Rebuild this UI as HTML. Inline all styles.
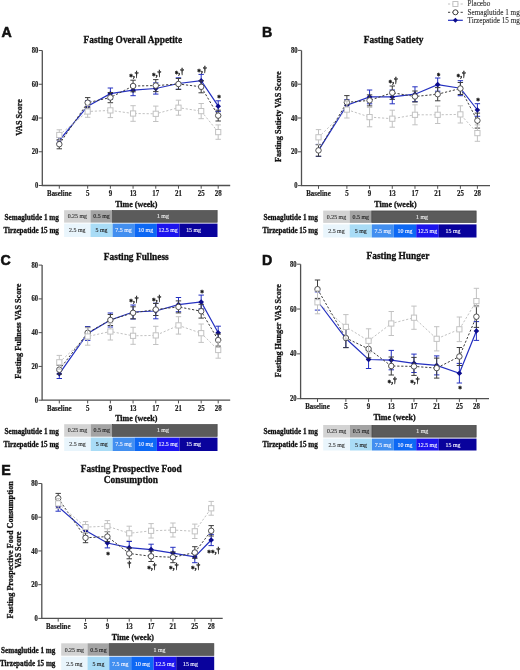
<!DOCTYPE html>
<html><head><meta charset="utf-8"><style>
html,body{margin:0;padding:0;background:#fff;width:520px;height:670px;overflow:hidden}
svg{display:block;will-change:transform;filter:blur(0.25px)}
</style></head><body>
<svg width="520" height="670" viewBox="0 0 520 670">
<rect width="520" height="670" fill="#fff"/>
<path d="M42.30 50.50V185.50H230.20" fill="none" stroke="#505050" stroke-width="1.3"/>
<path d="M38.80 185.50H42.30" stroke="#505050" stroke-width="1"/>
<text transform="translate(38.30 188.10) scale(1 1.1)" font-family='"Liberation Serif", serif' font-size="6.6" font-weight="bold" text-anchor="end" fill="#222" stroke="#222" stroke-width="0.18">0</text>
<path d="M38.80 151.75H42.30" stroke="#505050" stroke-width="1"/>
<text transform="translate(38.30 154.35) scale(1 1.1)" font-family='"Liberation Serif", serif' font-size="6.6" font-weight="bold" text-anchor="end" fill="#222" stroke="#222" stroke-width="0.18">20</text>
<path d="M38.80 118.00H42.30" stroke="#505050" stroke-width="1"/>
<text transform="translate(38.30 120.60) scale(1 1.1)" font-family='"Liberation Serif", serif' font-size="6.6" font-weight="bold" text-anchor="end" fill="#222" stroke="#222" stroke-width="0.18">40</text>
<path d="M38.80 84.25H42.30" stroke="#505050" stroke-width="1"/>
<text transform="translate(38.30 86.85) scale(1 1.1)" font-family='"Liberation Serif", serif' font-size="6.6" font-weight="bold" text-anchor="end" fill="#222" stroke="#222" stroke-width="0.18">60</text>
<path d="M38.80 50.50H42.30" stroke="#505050" stroke-width="1"/>
<text transform="translate(38.30 53.10) scale(1 1.1)" font-family='"Liberation Serif", serif' font-size="6.6" font-weight="bold" text-anchor="end" fill="#222" stroke="#222" stroke-width="0.18">80</text>
<path d="M59.30 185.50V188.70" stroke="#505050" stroke-width="1"/>
<text transform="translate(59.30 195.80) scale(1 1.05)" font-family='"Liberation Serif", serif' font-size="6.9" font-weight="bold" text-anchor="middle" fill="#222" stroke="#222" stroke-width="0.18">Baseline</text>
<path d="M87.67 185.50V188.70" stroke="#505050" stroke-width="1"/>
<text transform="translate(87.67 195.80) scale(1 1.05)" font-family='"Liberation Serif", serif' font-size="6.9" font-weight="bold" text-anchor="middle" fill="#222" stroke="#222" stroke-width="0.18">5</text>
<path d="M110.38 185.50V188.70" stroke="#505050" stroke-width="1"/>
<text transform="translate(110.38 195.80) scale(1 1.05)" font-family='"Liberation Serif", serif' font-size="6.9" font-weight="bold" text-anchor="middle" fill="#222" stroke="#222" stroke-width="0.18">9</text>
<path d="M133.07 185.50V188.70" stroke="#505050" stroke-width="1"/>
<text transform="translate(133.07 195.80) scale(1 1.05)" font-family='"Liberation Serif", serif' font-size="6.9" font-weight="bold" text-anchor="middle" fill="#222" stroke="#222" stroke-width="0.18">13</text>
<path d="M155.77 185.50V188.70" stroke="#505050" stroke-width="1"/>
<text transform="translate(155.77 195.80) scale(1 1.05)" font-family='"Liberation Serif", serif' font-size="6.9" font-weight="bold" text-anchor="middle" fill="#222" stroke="#222" stroke-width="0.18">17</text>
<path d="M178.47 185.50V188.70" stroke="#505050" stroke-width="1"/>
<text transform="translate(178.47 195.80) scale(1 1.05)" font-family='"Liberation Serif", serif' font-size="6.9" font-weight="bold" text-anchor="middle" fill="#222" stroke="#222" stroke-width="0.18">21</text>
<path d="M201.18 185.50V188.70" stroke="#505050" stroke-width="1"/>
<text transform="translate(201.18 195.80) scale(1 1.05)" font-family='"Liberation Serif", serif' font-size="6.9" font-weight="bold" text-anchor="middle" fill="#222" stroke="#222" stroke-width="0.18">25</text>
<path d="M218.20 185.50V188.70" stroke="#505050" stroke-width="1"/>
<text transform="translate(218.20 195.80) scale(1 1.05)" font-family='"Liberation Serif", serif' font-size="6.9" font-weight="bold" text-anchor="middle" fill="#222" stroke="#222" stroke-width="0.18">28</text>
<text transform="translate(132.80 42.70) scale(1 1.12)" font-family='"Liberation Serif", serif' font-size="9.4" font-weight="bold" text-anchor="middle" fill="#111" stroke="#111" stroke-width="0.28">Fasting Overall Appetite</text>
<text x="1.60" y="37.20" font-family='"Liberation Sans", sans-serif' font-size="14.2" font-weight="bold" fill="#111" stroke="#111" stroke-width="0.55">A</text>
<text transform="translate(21.60 117.50) rotate(-90) scale(1 1.12)" font-family='"Liberation Serif", serif' font-size="8.2" font-weight="bold" text-anchor="middle" fill="#111" stroke="#111" stroke-width="0.28">VAS Score</text>
<text transform="translate(136.25 206.90) scale(1 1.12)" font-family='"Liberation Serif", serif' font-size="8" font-weight="bold" text-anchor="middle" fill="#111" stroke="#111" stroke-width="0.28">Time (week)</text>
<path d="M59.30 140.50 L87.67 106.20 L110.38 93.70 L133.07 90.20 L155.77 88.50 L178.47 83.50 L201.18 80.70 L218.20 106.20" fill="none" stroke="#2430c0" stroke-width="1.2"/>
<path d="M59.30 137.50V143.50M56.60 137.50H62.00M56.60 143.50H62.00" stroke="#2430c0" stroke-width="1" fill="none"/>
<path d="M87.67 100.70V111.70M84.97 100.70H90.38M84.97 111.70H90.38" stroke="#2430c0" stroke-width="1" fill="none"/>
<path d="M110.38 88.00V99.40M107.67 88.00H113.08M107.67 99.40H113.08" stroke="#2430c0" stroke-width="1" fill="none"/>
<path d="M133.07 84.70V95.70M130.38 84.70H135.77M130.38 95.70H135.77" stroke="#2430c0" stroke-width="1" fill="none"/>
<path d="M155.77 82.90V94.10M153.07 82.90H158.47M153.07 94.10H158.47" stroke="#2430c0" stroke-width="1" fill="none"/>
<path d="M178.47 77.80V89.20M175.78 77.80H181.17M175.78 89.20H181.17" stroke="#2430c0" stroke-width="1" fill="none"/>
<path d="M201.18 74.40V87.00M198.48 74.40H203.88M198.48 87.00H203.88" stroke="#2430c0" stroke-width="1" fill="none"/>
<path d="M218.20 100.80V111.60M215.50 100.80H220.90M215.50 111.60H220.90" stroke="#2430c0" stroke-width="1" fill="none"/>
<path d="M59.30 137.70L62.10 140.50L59.30 143.30L56.50 140.50Z" fill="#0c0c8c"/>
<path d="M87.67 103.40L90.47 106.20L87.67 109.00L84.88 106.20Z" fill="#0c0c8c"/>
<path d="M110.38 90.90L113.17 93.70L110.38 96.50L107.58 93.70Z" fill="#0c0c8c"/>
<path d="M133.07 87.40L135.88 90.20L133.07 93.00L130.27 90.20Z" fill="#0c0c8c"/>
<path d="M155.77 85.70L158.57 88.50L155.77 91.30L152.97 88.50Z" fill="#0c0c8c"/>
<path d="M178.47 80.70L181.28 83.50L178.47 86.30L175.67 83.50Z" fill="#0c0c8c"/>
<path d="M201.18 77.90L203.98 80.70L201.18 83.50L198.38 80.70Z" fill="#0c0c8c"/>
<path d="M218.20 103.40L221.00 106.20L218.20 109.00L215.40 106.20Z" fill="#0c0c8c"/>
<path d="M59.30 144.20 L87.67 102.70 L110.38 97.50 L133.07 86.00 L155.77 85.60 L178.47 84.00 L201.18 86.80 L218.20 115.60" fill="none" stroke="#3c3c3c" stroke-width="1" stroke-dasharray="2.2 1.8"/>
<path d="M59.30 139.60V148.80M56.60 139.60H62.00M56.60 148.80H62.00" stroke="#3c3c3c" stroke-width="1" fill="none"/>
<path d="M87.67 97.60V107.80M84.97 97.60H90.38M84.97 107.80H90.38" stroke="#3c3c3c" stroke-width="1" fill="none"/>
<path d="M110.38 92.50V102.50M107.67 92.50H113.08M107.67 102.50H113.08" stroke="#3c3c3c" stroke-width="1" fill="none"/>
<path d="M133.07 80.20V91.80M130.38 80.20H135.77M130.38 91.80H135.77" stroke="#3c3c3c" stroke-width="1" fill="none"/>
<path d="M155.77 79.60V91.60M153.07 79.60H158.47M153.07 91.60H158.47" stroke="#3c3c3c" stroke-width="1" fill="none"/>
<path d="M178.47 78.50V89.50M175.78 78.50H181.17M175.78 89.50H181.17" stroke="#3c3c3c" stroke-width="1" fill="none"/>
<path d="M201.18 80.80V92.80M198.48 80.80H203.88M198.48 92.80H203.88" stroke="#3c3c3c" stroke-width="1" fill="none"/>
<path d="M218.20 110.20V121.00M215.50 110.20H220.90M215.50 121.00H220.90" stroke="#3c3c3c" stroke-width="1" fill="none"/>
<circle cx="59.30" cy="144.20" r="2.75" fill="#fff" stroke="#4a4a4a" stroke-width="0.95"/>
<circle cx="87.67" cy="102.70" r="2.75" fill="#fff" stroke="#4a4a4a" stroke-width="0.95"/>
<circle cx="110.38" cy="97.50" r="2.75" fill="#fff" stroke="#4a4a4a" stroke-width="0.95"/>
<circle cx="133.07" cy="86.00" r="2.75" fill="#fff" stroke="#4a4a4a" stroke-width="0.95"/>
<circle cx="155.77" cy="85.60" r="2.75" fill="#fff" stroke="#4a4a4a" stroke-width="0.95"/>
<circle cx="178.47" cy="84.00" r="2.75" fill="#fff" stroke="#4a4a4a" stroke-width="0.95"/>
<circle cx="201.18" cy="86.80" r="2.75" fill="#fff" stroke="#4a4a4a" stroke-width="0.95"/>
<circle cx="218.20" cy="115.60" r="2.75" fill="#fff" stroke="#4a4a4a" stroke-width="0.95"/>
<path d="M59.30 135.00 L87.67 111.50 L110.38 110.40 L133.07 113.50 L155.77 113.80 L178.47 107.70 L201.18 111.10 L218.20 132.10" fill="none" stroke="#c2c2c2" stroke-width="1" stroke-dasharray="2.2 1.8"/>
<path d="M59.30 129.80V140.20M56.60 129.80H62.00M56.60 140.20H62.00" stroke="#c2c2c2" stroke-width="1" fill="none"/>
<path d="M87.67 105.70V117.30M84.97 105.70H90.38M84.97 117.30H90.38" stroke="#c2c2c2" stroke-width="1" fill="none"/>
<path d="M110.38 103.20V117.60M107.67 103.20H113.08M107.67 117.60H113.08" stroke="#c2c2c2" stroke-width="1" fill="none"/>
<path d="M133.07 105.70V121.30M130.38 105.70H135.77M130.38 121.30H135.77" stroke="#c2c2c2" stroke-width="1" fill="none"/>
<path d="M155.77 106.10V121.50M153.07 106.10H158.47M153.07 121.50H158.47" stroke="#c2c2c2" stroke-width="1" fill="none"/>
<path d="M178.47 100.20V115.20M175.78 100.20H181.17M175.78 115.20H181.17" stroke="#c2c2c2" stroke-width="1" fill="none"/>
<path d="M201.18 103.50V118.70M198.48 103.50H203.88M198.48 118.70H203.88" stroke="#c2c2c2" stroke-width="1" fill="none"/>
<path d="M218.20 124.90V139.30M215.50 124.90H220.90M215.50 139.30H220.90" stroke="#c2c2c2" stroke-width="1" fill="none"/>
<rect x="56.70" y="132.40" width="5.2" height="5.2" fill="#fff" stroke="#c2c2c2" stroke-width="1"/>
<rect x="85.08" y="108.90" width="5.2" height="5.2" fill="#fff" stroke="#c2c2c2" stroke-width="1"/>
<rect x="107.78" y="107.80" width="5.2" height="5.2" fill="#fff" stroke="#c2c2c2" stroke-width="1"/>
<rect x="130.47" y="110.90" width="5.2" height="5.2" fill="#fff" stroke="#c2c2c2" stroke-width="1"/>
<rect x="153.17" y="111.20" width="5.2" height="5.2" fill="#fff" stroke="#c2c2c2" stroke-width="1"/>
<rect x="175.88" y="105.10" width="5.2" height="5.2" fill="#fff" stroke="#c2c2c2" stroke-width="1"/>
<rect x="198.58" y="108.50" width="5.2" height="5.2" fill="#fff" stroke="#c2c2c2" stroke-width="1"/>
<rect x="215.60" y="129.50" width="5.2" height="5.2" fill="#fff" stroke="#c2c2c2" stroke-width="1"/>
<text transform="translate(133.88 77.40) scale(1 1.12)" font-family='"Liberation Serif", serif' font-size="7.4" font-weight="bold" text-anchor="middle" fill="#111" stroke="#111" stroke-width="0.28"><tspan dy="2.6">*</tspan><tspan dy="-2.6">,†</tspan></text>
<text transform="translate(156.57 76.30) scale(1 1.12)" font-family='"Liberation Serif", serif' font-size="7.4" font-weight="bold" text-anchor="middle" fill="#111" stroke="#111" stroke-width="0.28"><tspan dy="2.6">*</tspan><tspan dy="-2.6">,†</tspan></text>
<text transform="translate(179.28 74.00) scale(1 1.12)" font-family='"Liberation Serif", serif' font-size="7.4" font-weight="bold" text-anchor="middle" fill="#111" stroke="#111" stroke-width="0.28"><tspan dy="2.6">*</tspan><tspan dy="-2.6">,†</tspan></text>
<text transform="translate(201.98 71.70) scale(1 1.12)" font-family='"Liberation Serif", serif' font-size="7.4" font-weight="bold" text-anchor="middle" fill="#111" stroke="#111" stroke-width="0.28"><tspan dy="2.6">*</tspan><tspan dy="-2.6">,†</tspan></text>
<text transform="translate(219.00 98.50) scale(1 1.12)" font-family='"Liberation Serif", serif' font-size="7.4" font-weight="bold" text-anchor="middle" fill="#111" stroke="#111" stroke-width="0.28"><tspan dy="2.6">*</tspan></text>
<rect x="64.10" y="210.20" width="26.40" height="12.40" fill="#d3d3d3"/>
<text transform="translate(77.30 218.40) scale(1 1.12)" font-family='"Liberation Serif", serif' font-size="5.9" font-weight="normal" text-anchor="middle" fill="#333" stroke="#333" stroke-width="0.12">0.25 mg</text>
<rect x="90.50" y="210.20" width="22.10" height="12.40" fill="#a3a3a3"/>
<text transform="translate(101.55 218.40) scale(1 1.12)" font-family='"Liberation Serif", serif' font-size="5.9" font-weight="normal" text-anchor="middle" fill="#222" stroke="#222" stroke-width="0.12">0.5 mg</text>
<rect x="112.60" y="210.55" width="104.55" height="11.70" fill="#5b5b5b" stroke="#454545" stroke-width="0.7"/>
<text transform="translate(162.90 218.40) scale(1 1.12)" font-family='"Liberation Serif", serif' font-size="5.9" font-weight="normal" text-anchor="middle" fill="#eee" stroke="#eee" stroke-width="0.12">1 mg</text>
<rect x="64.10" y="223.60" width="26.40" height="13.40" fill="#e9f5fc"/>
<text transform="translate(77.30 232.30) scale(1 1.12)" font-family='"Liberation Serif", serif' font-size="5.9" font-weight="normal" text-anchor="middle" fill="#333" stroke="#333" stroke-width="0.12">2.5 mg</text>
<rect x="90.50" y="223.60" width="22.10" height="13.40" fill="#a9dcf6"/>
<text transform="translate(101.55 232.30) scale(1 1.12)" font-family='"Liberation Serif", serif' font-size="5.9" font-weight="normal" text-anchor="middle" fill="#222" stroke="#222" stroke-width="0.12">5 mg</text>
<rect x="112.60" y="223.60" width="21.80" height="13.40" fill="#428ff0"/>
<text transform="translate(123.50 232.30) scale(1 1.12)" font-family='"Liberation Serif", serif' font-size="5.9" font-weight="normal" text-anchor="middle" fill="#f4f4ff" stroke="#f4f4ff" stroke-width="0.12">7.5 mg</text>
<rect x="134.40" y="223.60" width="22.50" height="13.40" fill="#0d68f4"/>
<text transform="translate(145.65 232.30) scale(1 1.12)" font-family='"Liberation Serif", serif' font-size="5.9" font-weight="normal" text-anchor="middle" fill="#f4f4ff" stroke="#f4f4ff" stroke-width="0.12">10 mg</text>
<rect x="156.90" y="223.60" width="22.50" height="13.40" fill="#1c14ee"/>
<text transform="translate(168.15 232.30) scale(1 1.12)" font-family='"Liberation Serif", serif' font-size="5.9" font-weight="normal" text-anchor="middle" fill="#f4f4ff" stroke="#f4f4ff" stroke-width="0.12">12.5 mg</text>
<rect x="179.40" y="223.60" width="38.10" height="13.40" fill="#09029c"/>
<text transform="translate(193.60 232.30) scale(1 1.12)" font-family='"Liberation Serif", serif' font-size="5.9" font-weight="normal" text-anchor="middle" fill="#f4f4ff" stroke="#f4f4ff" stroke-width="0.12">15 mg</text>
<text transform="translate(58.90 219.60) scale(1 1.03)" font-family='"Liberation Serif", serif' font-size="7.15" font-weight="bold" text-anchor="end" fill="#111" stroke="#111" stroke-width="0.28">Semaglutide 1 mg</text>
<text transform="translate(58.90 232.70) scale(1 1.03)" font-family='"Liberation Serif", serif' font-size="7.15" font-weight="bold" text-anchor="end" fill="#111" stroke="#111" stroke-width="0.28">Tirzepatide 15 mg</text>
<path d="M301.50 50.40V185.60H490.00" fill="none" stroke="#505050" stroke-width="1.3"/>
<path d="M298.00 185.60H301.50" stroke="#505050" stroke-width="1"/>
<text transform="translate(297.50 188.20) scale(1 1.1)" font-family='"Liberation Serif", serif' font-size="6.6" font-weight="bold" text-anchor="end" fill="#222" stroke="#222" stroke-width="0.18">0</text>
<path d="M298.00 151.80H301.50" stroke="#505050" stroke-width="1"/>
<text transform="translate(297.50 154.40) scale(1 1.1)" font-family='"Liberation Serif", serif' font-size="6.6" font-weight="bold" text-anchor="end" fill="#222" stroke="#222" stroke-width="0.18">20</text>
<path d="M298.00 118.00H301.50" stroke="#505050" stroke-width="1"/>
<text transform="translate(297.50 120.60) scale(1 1.1)" font-family='"Liberation Serif", serif' font-size="6.6" font-weight="bold" text-anchor="end" fill="#222" stroke="#222" stroke-width="0.18">40</text>
<path d="M298.00 84.20H301.50" stroke="#505050" stroke-width="1"/>
<text transform="translate(297.50 86.80) scale(1 1.1)" font-family='"Liberation Serif", serif' font-size="6.6" font-weight="bold" text-anchor="end" fill="#222" stroke="#222" stroke-width="0.18">60</text>
<path d="M298.00 50.40H301.50" stroke="#505050" stroke-width="1"/>
<text transform="translate(297.50 53.00) scale(1 1.1)" font-family='"Liberation Serif", serif' font-size="6.6" font-weight="bold" text-anchor="end" fill="#222" stroke="#222" stroke-width="0.18">80</text>
<path d="M318.50 185.60V188.80" stroke="#505050" stroke-width="1"/>
<text transform="translate(318.50 195.90) scale(1 1.05)" font-family='"Liberation Serif", serif' font-size="6.9" font-weight="bold" text-anchor="middle" fill="#222" stroke="#222" stroke-width="0.18">Baseline</text>
<path d="M346.88 185.60V188.80" stroke="#505050" stroke-width="1"/>
<text transform="translate(346.88 195.90) scale(1 1.05)" font-family='"Liberation Serif", serif' font-size="6.9" font-weight="bold" text-anchor="middle" fill="#222" stroke="#222" stroke-width="0.18">5</text>
<path d="M369.57 185.60V188.80" stroke="#505050" stroke-width="1"/>
<text transform="translate(369.57 195.90) scale(1 1.05)" font-family='"Liberation Serif", serif' font-size="6.9" font-weight="bold" text-anchor="middle" fill="#222" stroke="#222" stroke-width="0.18">9</text>
<path d="M392.27 185.60V188.80" stroke="#505050" stroke-width="1"/>
<text transform="translate(392.27 195.90) scale(1 1.05)" font-family='"Liberation Serif", serif' font-size="6.9" font-weight="bold" text-anchor="middle" fill="#222" stroke="#222" stroke-width="0.18">13</text>
<path d="M414.98 185.60V188.80" stroke="#505050" stroke-width="1"/>
<text transform="translate(414.98 195.90) scale(1 1.05)" font-family='"Liberation Serif", serif' font-size="6.9" font-weight="bold" text-anchor="middle" fill="#222" stroke="#222" stroke-width="0.18">17</text>
<path d="M437.68 185.60V188.80" stroke="#505050" stroke-width="1"/>
<text transform="translate(437.68 195.90) scale(1 1.05)" font-family='"Liberation Serif", serif' font-size="6.9" font-weight="bold" text-anchor="middle" fill="#222" stroke="#222" stroke-width="0.18">21</text>
<path d="M460.38 185.60V188.80" stroke="#505050" stroke-width="1"/>
<text transform="translate(460.38 195.90) scale(1 1.05)" font-family='"Liberation Serif", serif' font-size="6.9" font-weight="bold" text-anchor="middle" fill="#222" stroke="#222" stroke-width="0.18">25</text>
<path d="M477.40 185.60V188.80" stroke="#505050" stroke-width="1"/>
<text transform="translate(477.40 195.90) scale(1 1.05)" font-family='"Liberation Serif", serif' font-size="6.9" font-weight="bold" text-anchor="middle" fill="#222" stroke="#222" stroke-width="0.18">28</text>
<text transform="translate(393.60 42.70) scale(1 1.12)" font-family='"Liberation Serif", serif' font-size="9.4" font-weight="bold" text-anchor="middle" fill="#111" stroke="#111" stroke-width="0.28">Fasting Satiety</text>
<text x="262.00" y="37.00" font-family='"Liberation Sans", sans-serif' font-size="14.2" font-weight="bold" fill="#111" stroke="#111" stroke-width="0.55">B</text>
<text transform="translate(280.60 116.70) rotate(-90) scale(1 1.12)" font-family='"Liberation Serif", serif' font-size="8.2" font-weight="bold" text-anchor="middle" fill="#111" stroke="#111" stroke-width="0.28">Fasting Satiety VAS Score</text>
<text transform="translate(395.45 206.90) scale(1 1.12)" font-family='"Liberation Serif", serif' font-size="8" font-weight="bold" text-anchor="middle" fill="#111" stroke="#111" stroke-width="0.28">Time (week)</text>
<path d="M318.50 150.40 L346.88 105.20 L369.57 96.90 L392.27 96.90 L414.98 94.20 L437.68 84.60 L460.38 88.20 L477.40 110.00" fill="none" stroke="#2430c0" stroke-width="1.2"/>
<path d="M318.50 144.40V156.40M315.80 144.40H321.20M315.80 156.40H321.20" stroke="#2430c0" stroke-width="1" fill="none"/>
<path d="M346.88 99.70V110.70M344.18 99.70H349.57M344.18 110.70H349.57" stroke="#2430c0" stroke-width="1" fill="none"/>
<path d="M369.57 90.00V103.80M366.88 90.00H372.27M366.88 103.80H372.27" stroke="#2430c0" stroke-width="1" fill="none"/>
<path d="M392.27 90.00V103.80M389.57 90.00H394.97M389.57 103.80H394.97" stroke="#2430c0" stroke-width="1" fill="none"/>
<path d="M414.98 86.80V101.60M412.28 86.80H417.68M412.28 101.60H417.68" stroke="#2430c0" stroke-width="1" fill="none"/>
<path d="M437.68 78.00V91.20M434.98 78.00H440.38M434.98 91.20H440.38" stroke="#2430c0" stroke-width="1" fill="none"/>
<path d="M460.38 80.70V95.70M457.68 80.70H463.07M457.68 95.70H463.07" stroke="#2430c0" stroke-width="1" fill="none"/>
<path d="M477.40 103.70V116.30M474.70 103.70H480.10M474.70 116.30H480.10" stroke="#2430c0" stroke-width="1" fill="none"/>
<path d="M318.50 147.60L321.30 150.40L318.50 153.20L315.70 150.40Z" fill="#0c0c8c"/>
<path d="M346.88 102.40L349.68 105.20L346.88 108.00L344.07 105.20Z" fill="#0c0c8c"/>
<path d="M369.57 94.10L372.38 96.90L369.57 99.70L366.77 96.90Z" fill="#0c0c8c"/>
<path d="M392.27 94.10L395.07 96.90L392.27 99.70L389.47 96.90Z" fill="#0c0c8c"/>
<path d="M414.98 91.40L417.78 94.20L414.98 97.00L412.18 94.20Z" fill="#0c0c8c"/>
<path d="M437.68 81.80L440.48 84.60L437.68 87.40L434.88 84.60Z" fill="#0c0c8c"/>
<path d="M460.38 85.40L463.18 88.20L460.38 91.00L457.57 88.20Z" fill="#0c0c8c"/>
<path d="M477.40 107.20L480.20 110.00L477.40 112.80L474.60 110.00Z" fill="#0c0c8c"/>
<path d="M318.50 150.40 L346.88 102.30 L369.57 100.40 L392.27 92.70 L414.98 96.50 L437.68 94.20 L460.38 88.50 L477.40 120.60" fill="none" stroke="#3c3c3c" stroke-width="1" stroke-dasharray="2.2 1.8"/>
<path d="M318.50 144.60V156.20M315.80 144.60H321.20M315.80 156.20H321.20" stroke="#3c3c3c" stroke-width="1" fill="none"/>
<path d="M346.88 95.60V109.00M344.18 95.60H349.57M344.18 109.00H349.57" stroke="#3c3c3c" stroke-width="1" fill="none"/>
<path d="M369.57 94.90V105.90M366.88 94.90H372.27M366.88 105.90H372.27" stroke="#3c3c3c" stroke-width="1" fill="none"/>
<path d="M392.27 86.00V99.40M389.57 86.00H394.97M389.57 99.40H394.97" stroke="#3c3c3c" stroke-width="1" fill="none"/>
<path d="M414.98 91.00V102.00M412.28 91.00H417.68M412.28 102.00H417.68" stroke="#3c3c3c" stroke-width="1" fill="none"/>
<path d="M437.68 87.60V100.80M434.98 87.60H440.38M434.98 100.80H440.38" stroke="#3c3c3c" stroke-width="1" fill="none"/>
<path d="M460.38 82.50V94.50M457.68 82.50H463.07M457.68 94.50H463.07" stroke="#3c3c3c" stroke-width="1" fill="none"/>
<path d="M477.40 113.10V128.10M474.70 113.10H480.10M474.70 128.10H480.10" stroke="#3c3c3c" stroke-width="1" fill="none"/>
<circle cx="318.50" cy="150.40" r="2.75" fill="#fff" stroke="#4a4a4a" stroke-width="0.95"/>
<circle cx="346.88" cy="102.30" r="2.75" fill="#fff" stroke="#4a4a4a" stroke-width="0.95"/>
<circle cx="369.57" cy="100.40" r="2.75" fill="#fff" stroke="#4a4a4a" stroke-width="0.95"/>
<circle cx="392.27" cy="92.70" r="2.75" fill="#fff" stroke="#4a4a4a" stroke-width="0.95"/>
<circle cx="414.98" cy="96.50" r="2.75" fill="#fff" stroke="#4a4a4a" stroke-width="0.95"/>
<circle cx="437.68" cy="94.20" r="2.75" fill="#fff" stroke="#4a4a4a" stroke-width="0.95"/>
<circle cx="460.38" cy="88.50" r="2.75" fill="#fff" stroke="#4a4a4a" stroke-width="0.95"/>
<circle cx="477.40" cy="120.60" r="2.75" fill="#fff" stroke="#4a4a4a" stroke-width="0.95"/>
<path d="M318.50 137.30 L346.88 109.60 L369.57 117.10 L392.27 118.70 L414.98 114.80 L437.68 114.80 L460.38 114.40 L477.40 133.10" fill="none" stroke="#c2c2c2" stroke-width="1" stroke-dasharray="2.2 1.8"/>
<path d="M318.50 129.60V145.00M315.80 129.60H321.20M315.80 145.00H321.20" stroke="#c2c2c2" stroke-width="1" fill="none"/>
<path d="M346.88 101.20V118.00M344.18 101.20H349.57M344.18 118.00H349.57" stroke="#c2c2c2" stroke-width="1" fill="none"/>
<path d="M369.57 107.40V126.80M366.88 107.40H372.27M366.88 126.80H372.27" stroke="#c2c2c2" stroke-width="1" fill="none"/>
<path d="M392.27 110.20V127.20M389.57 110.20H394.97M389.57 127.20H394.97" stroke="#c2c2c2" stroke-width="1" fill="none"/>
<path d="M414.98 104.80V124.80M412.28 104.80H417.68M412.28 124.80H417.68" stroke="#c2c2c2" stroke-width="1" fill="none"/>
<path d="M437.68 106.10V123.50M434.98 106.10H440.38M434.98 123.50H440.38" stroke="#c2c2c2" stroke-width="1" fill="none"/>
<path d="M460.38 105.80V123.00M457.68 105.80H463.07M457.68 123.00H463.07" stroke="#c2c2c2" stroke-width="1" fill="none"/>
<path d="M477.40 124.90V141.30M474.70 124.90H480.10M474.70 141.30H480.10" stroke="#c2c2c2" stroke-width="1" fill="none"/>
<rect x="315.90" y="134.70" width="5.2" height="5.2" fill="#fff" stroke="#c2c2c2" stroke-width="1"/>
<rect x="344.27" y="107.00" width="5.2" height="5.2" fill="#fff" stroke="#c2c2c2" stroke-width="1"/>
<rect x="366.97" y="114.50" width="5.2" height="5.2" fill="#fff" stroke="#c2c2c2" stroke-width="1"/>
<rect x="389.67" y="116.10" width="5.2" height="5.2" fill="#fff" stroke="#c2c2c2" stroke-width="1"/>
<rect x="412.38" y="112.20" width="5.2" height="5.2" fill="#fff" stroke="#c2c2c2" stroke-width="1"/>
<rect x="435.07" y="112.20" width="5.2" height="5.2" fill="#fff" stroke="#c2c2c2" stroke-width="1"/>
<rect x="457.77" y="111.80" width="5.2" height="5.2" fill="#fff" stroke="#c2c2c2" stroke-width="1"/>
<rect x="474.80" y="130.50" width="5.2" height="5.2" fill="#fff" stroke="#c2c2c2" stroke-width="1"/>
<text transform="translate(393.07 83.20) scale(1 1.12)" font-family='"Liberation Serif", serif' font-size="7.4" font-weight="bold" text-anchor="middle" fill="#111" stroke="#111" stroke-width="0.28"><tspan dy="2.6">*</tspan><tspan dy="-2.6">,†</tspan></text>
<text transform="translate(438.48 76.30) scale(1 1.12)" font-family='"Liberation Serif", serif' font-size="7.4" font-weight="bold" text-anchor="middle" fill="#111" stroke="#111" stroke-width="0.28"><tspan dy="2.6">*</tspan></text>
<text transform="translate(461.18 76.80) scale(1 1.12)" font-family='"Liberation Serif", serif' font-size="7.4" font-weight="bold" text-anchor="middle" fill="#111" stroke="#111" stroke-width="0.28"><tspan dy="2.6">*</tspan><tspan dy="-2.6">,†</tspan></text>
<text transform="translate(478.20 101.00) scale(1 1.12)" font-family='"Liberation Serif", serif' font-size="7.4" font-weight="bold" text-anchor="middle" fill="#111" stroke="#111" stroke-width="0.28"><tspan dy="2.6">*</tspan></text>
<rect x="323.20" y="210.60" width="26.50" height="12.30" fill="#d3d3d3"/>
<text transform="translate(336.45 218.75) scale(1 1.12)" font-family='"Liberation Serif", serif' font-size="5.9" font-weight="normal" text-anchor="middle" fill="#333" stroke="#333" stroke-width="0.12">0.25 mg</text>
<rect x="349.70" y="210.60" width="22.10" height="12.30" fill="#a3a3a3"/>
<text transform="translate(360.75 218.75) scale(1 1.12)" font-family='"Liberation Serif", serif' font-size="5.9" font-weight="normal" text-anchor="middle" fill="#222" stroke="#222" stroke-width="0.12">0.5 mg</text>
<rect x="371.80" y="210.95" width="104.35" height="11.60" fill="#5b5b5b" stroke="#454545" stroke-width="0.7"/>
<text transform="translate(422.10 218.75) scale(1 1.12)" font-family='"Liberation Serif", serif' font-size="5.9" font-weight="normal" text-anchor="middle" fill="#eee" stroke="#eee" stroke-width="0.12">1 mg</text>
<rect x="323.20" y="224.40" width="26.50" height="13.10" fill="#e9f5fc"/>
<text transform="translate(336.45 232.95) scale(1 1.12)" font-family='"Liberation Serif", serif' font-size="5.9" font-weight="normal" text-anchor="middle" fill="#333" stroke="#333" stroke-width="0.12">2.5 mg</text>
<rect x="349.70" y="224.40" width="22.10" height="13.10" fill="#a9dcf6"/>
<text transform="translate(360.75 232.95) scale(1 1.12)" font-family='"Liberation Serif", serif' font-size="5.9" font-weight="normal" text-anchor="middle" fill="#222" stroke="#222" stroke-width="0.12">5 mg</text>
<rect x="371.80" y="224.40" width="22.00" height="13.10" fill="#428ff0"/>
<text transform="translate(382.80 232.95) scale(1 1.12)" font-family='"Liberation Serif", serif' font-size="5.9" font-weight="normal" text-anchor="middle" fill="#f4f4ff" stroke="#f4f4ff" stroke-width="0.12">7.5 mg</text>
<rect x="393.80" y="224.40" width="22.40" height="13.10" fill="#0d68f4"/>
<text transform="translate(405.00 232.95) scale(1 1.12)" font-family='"Liberation Serif", serif' font-size="5.9" font-weight="normal" text-anchor="middle" fill="#f4f4ff" stroke="#f4f4ff" stroke-width="0.12">10 mg</text>
<rect x="416.20" y="224.40" width="22.60" height="13.10" fill="#1c14ee"/>
<text transform="translate(427.50 232.95) scale(1 1.12)" font-family='"Liberation Serif", serif' font-size="5.9" font-weight="normal" text-anchor="middle" fill="#f4f4ff" stroke="#f4f4ff" stroke-width="0.12">12.5 mg</text>
<rect x="438.80" y="224.40" width="37.70" height="13.10" fill="#09029c"/>
<text transform="translate(453.00 232.95) scale(1 1.12)" font-family='"Liberation Serif", serif' font-size="5.9" font-weight="normal" text-anchor="middle" fill="#f4f4ff" stroke="#f4f4ff" stroke-width="0.12">15 mg</text>
<text transform="translate(317.80 219.95) scale(1 1.03)" font-family='"Liberation Serif", serif' font-size="7.15" font-weight="bold" text-anchor="end" fill="#111" stroke="#111" stroke-width="0.28">Semaglutide 1 mg</text>
<text transform="translate(317.80 233.35) scale(1 1.03)" font-family='"Liberation Serif", serif' font-size="7.15" font-weight="bold" text-anchor="end" fill="#111" stroke="#111" stroke-width="0.28">Tirzepatide 15 mg</text>
<path d="M42.10 265.10V400.20H230.20" fill="none" stroke="#505050" stroke-width="1.3"/>
<path d="M38.60 400.20H42.10" stroke="#505050" stroke-width="1"/>
<text transform="translate(38.10 402.80) scale(1 1.1)" font-family='"Liberation Serif", serif' font-size="6.6" font-weight="bold" text-anchor="end" fill="#222" stroke="#222" stroke-width="0.18">0</text>
<path d="M38.60 366.43H42.10" stroke="#505050" stroke-width="1"/>
<text transform="translate(38.10 369.03) scale(1 1.1)" font-family='"Liberation Serif", serif' font-size="6.6" font-weight="bold" text-anchor="end" fill="#222" stroke="#222" stroke-width="0.18">20</text>
<path d="M38.60 332.65H42.10" stroke="#505050" stroke-width="1"/>
<text transform="translate(38.10 335.25) scale(1 1.1)" font-family='"Liberation Serif", serif' font-size="6.6" font-weight="bold" text-anchor="end" fill="#222" stroke="#222" stroke-width="0.18">40</text>
<path d="M38.60 298.88H42.10" stroke="#505050" stroke-width="1"/>
<text transform="translate(38.10 301.48) scale(1 1.1)" font-family='"Liberation Serif", serif' font-size="6.6" font-weight="bold" text-anchor="end" fill="#222" stroke="#222" stroke-width="0.18">60</text>
<path d="M38.60 265.10H42.10" stroke="#505050" stroke-width="1"/>
<text transform="translate(38.10 267.70) scale(1 1.1)" font-family='"Liberation Serif", serif' font-size="6.6" font-weight="bold" text-anchor="end" fill="#222" stroke="#222" stroke-width="0.18">80</text>
<path d="M59.30 400.20V403.40" stroke="#505050" stroke-width="1"/>
<text transform="translate(59.30 410.50) scale(1 1.05)" font-family='"Liberation Serif", serif' font-size="6.9" font-weight="bold" text-anchor="middle" fill="#222" stroke="#222" stroke-width="0.18">Baseline</text>
<path d="M87.67 400.20V403.40" stroke="#505050" stroke-width="1"/>
<text transform="translate(87.67 410.50) scale(1 1.05)" font-family='"Liberation Serif", serif' font-size="6.9" font-weight="bold" text-anchor="middle" fill="#222" stroke="#222" stroke-width="0.18">5</text>
<path d="M110.38 400.20V403.40" stroke="#505050" stroke-width="1"/>
<text transform="translate(110.38 410.50) scale(1 1.05)" font-family='"Liberation Serif", serif' font-size="6.9" font-weight="bold" text-anchor="middle" fill="#222" stroke="#222" stroke-width="0.18">9</text>
<path d="M133.07 400.20V403.40" stroke="#505050" stroke-width="1"/>
<text transform="translate(133.07 410.50) scale(1 1.05)" font-family='"Liberation Serif", serif' font-size="6.9" font-weight="bold" text-anchor="middle" fill="#222" stroke="#222" stroke-width="0.18">13</text>
<path d="M155.77 400.20V403.40" stroke="#505050" stroke-width="1"/>
<text transform="translate(155.77 410.50) scale(1 1.05)" font-family='"Liberation Serif", serif' font-size="6.9" font-weight="bold" text-anchor="middle" fill="#222" stroke="#222" stroke-width="0.18">17</text>
<path d="M178.47 400.20V403.40" stroke="#505050" stroke-width="1"/>
<text transform="translate(178.47 410.50) scale(1 1.05)" font-family='"Liberation Serif", serif' font-size="6.9" font-weight="bold" text-anchor="middle" fill="#222" stroke="#222" stroke-width="0.18">21</text>
<path d="M201.18 400.20V403.40" stroke="#505050" stroke-width="1"/>
<text transform="translate(201.18 410.50) scale(1 1.05)" font-family='"Liberation Serif", serif' font-size="6.9" font-weight="bold" text-anchor="middle" fill="#222" stroke="#222" stroke-width="0.18">25</text>
<path d="M218.20 400.20V403.40" stroke="#505050" stroke-width="1"/>
<text transform="translate(218.20 410.50) scale(1 1.05)" font-family='"Liberation Serif", serif' font-size="6.9" font-weight="bold" text-anchor="middle" fill="#222" stroke="#222" stroke-width="0.18">28</text>
<text transform="translate(136.30 259.90) scale(1 1.12)" font-family='"Liberation Serif", serif' font-size="9.4" font-weight="bold" text-anchor="middle" fill="#111" stroke="#111" stroke-width="0.28">Fasting Fullness</text>
<text x="0.40" y="264.50" font-family='"Liberation Sans", sans-serif' font-size="14.2" font-weight="bold" fill="#111" stroke="#111" stroke-width="0.55">C</text>
<text transform="translate(21.20 331.20) rotate(-90) scale(1 1.12)" font-family='"Liberation Serif", serif' font-size="8.2" font-weight="bold" text-anchor="middle" fill="#111" stroke="#111" stroke-width="0.28">Fasting Fullness VAS Score</text>
<text transform="translate(136.25 421.30) scale(1 1.12)" font-family='"Liberation Serif", serif' font-size="8" font-weight="bold" text-anchor="middle" fill="#111" stroke="#111" stroke-width="0.28">Time (week)</text>
<path d="M59.30 373.80 L87.67 333.50 L110.38 320.00 L133.07 312.00 L155.77 311.00 L178.47 304.60 L201.18 302.00 L218.20 332.70" fill="none" stroke="#2430c0" stroke-width="1.2"/>
<path d="M59.30 369.10V378.50M56.60 369.10H62.00M56.60 378.50H62.00" stroke="#2430c0" stroke-width="1" fill="none"/>
<path d="M87.67 326.60V340.40M84.97 326.60H90.38M84.97 340.40H90.38" stroke="#2430c0" stroke-width="1" fill="none"/>
<path d="M110.38 313.00V327.00M107.67 313.00H113.08M107.67 327.00H113.08" stroke="#2430c0" stroke-width="1" fill="none"/>
<path d="M133.07 305.00V319.00M130.38 305.00H135.77M130.38 319.00H135.77" stroke="#2430c0" stroke-width="1" fill="none"/>
<path d="M155.77 303.20V318.80M153.07 303.20H158.47M153.07 318.80H158.47" stroke="#2430c0" stroke-width="1" fill="none"/>
<path d="M178.47 297.50V311.70M175.78 297.50H181.17M175.78 311.70H181.17" stroke="#2430c0" stroke-width="1" fill="none"/>
<path d="M201.18 295.10V308.90M198.48 295.10H203.88M198.48 308.90H203.88" stroke="#2430c0" stroke-width="1" fill="none"/>
<path d="M218.20 326.20V339.20M215.50 326.20H220.90M215.50 339.20H220.90" stroke="#2430c0" stroke-width="1" fill="none"/>
<path d="M59.30 371.00L62.10 373.80L59.30 376.60L56.50 373.80Z" fill="#0c0c8c"/>
<path d="M87.67 330.70L90.47 333.50L87.67 336.30L84.88 333.50Z" fill="#0c0c8c"/>
<path d="M110.38 317.20L113.17 320.00L110.38 322.80L107.58 320.00Z" fill="#0c0c8c"/>
<path d="M133.07 309.20L135.88 312.00L133.07 314.80L130.27 312.00Z" fill="#0c0c8c"/>
<path d="M155.77 308.20L158.57 311.00L155.77 313.80L152.97 311.00Z" fill="#0c0c8c"/>
<path d="M178.47 301.80L181.28 304.60L178.47 307.40L175.67 304.60Z" fill="#0c0c8c"/>
<path d="M201.18 299.20L203.98 302.00L201.18 304.80L198.38 302.00Z" fill="#0c0c8c"/>
<path d="M218.20 329.90L221.00 332.70L218.20 335.50L215.40 332.70Z" fill="#0c0c8c"/>
<path d="M59.30 369.70 L87.67 332.80 L110.38 320.00 L133.07 312.80 L155.77 309.50 L178.47 306.90 L201.18 311.20 L218.20 340.10" fill="none" stroke="#3c3c3c" stroke-width="1" stroke-dasharray="2.2 1.8"/>
<path d="M59.30 365.20V374.20M56.60 365.20H62.00M56.60 374.20H62.00" stroke="#3c3c3c" stroke-width="1" fill="none"/>
<path d="M87.67 327.30V338.30M84.97 327.30H90.38M84.97 338.30H90.38" stroke="#3c3c3c" stroke-width="1" fill="none"/>
<path d="M110.38 314.50V325.50M107.67 314.50H113.08M107.67 325.50H113.08" stroke="#3c3c3c" stroke-width="1" fill="none"/>
<path d="M133.07 306.80V318.80M130.38 306.80H135.77M130.38 318.80H135.77" stroke="#3c3c3c" stroke-width="1" fill="none"/>
<path d="M155.77 303.50V315.50M153.07 303.50H158.47M153.07 315.50H158.47" stroke="#3c3c3c" stroke-width="1" fill="none"/>
<path d="M178.47 300.90V312.90M175.78 300.90H181.17M175.78 312.90H181.17" stroke="#3c3c3c" stroke-width="1" fill="none"/>
<path d="M201.18 304.30V318.10M198.48 304.30H203.88M198.48 318.10H203.88" stroke="#3c3c3c" stroke-width="1" fill="none"/>
<path d="M218.20 334.10V346.10M215.50 334.10H220.90M215.50 346.10H220.90" stroke="#3c3c3c" stroke-width="1" fill="none"/>
<circle cx="59.30" cy="369.70" r="2.75" fill="#fff" stroke="#4a4a4a" stroke-width="0.95"/>
<circle cx="87.67" cy="332.80" r="2.75" fill="#fff" stroke="#4a4a4a" stroke-width="0.95"/>
<circle cx="110.38" cy="320.00" r="2.75" fill="#fff" stroke="#4a4a4a" stroke-width="0.95"/>
<circle cx="133.07" cy="312.80" r="2.75" fill="#fff" stroke="#4a4a4a" stroke-width="0.95"/>
<circle cx="155.77" cy="309.50" r="2.75" fill="#fff" stroke="#4a4a4a" stroke-width="0.95"/>
<circle cx="178.47" cy="306.90" r="2.75" fill="#fff" stroke="#4a4a4a" stroke-width="0.95"/>
<circle cx="201.18" cy="311.20" r="2.75" fill="#fff" stroke="#4a4a4a" stroke-width="0.95"/>
<circle cx="218.20" cy="340.10" r="2.75" fill="#fff" stroke="#4a4a4a" stroke-width="0.95"/>
<path d="M59.30 362.30 L87.67 336.50 L110.38 331.50 L133.07 335.80 L155.77 335.40 L178.47 325.40 L201.18 333.20 L218.20 350.00" fill="none" stroke="#c2c2c2" stroke-width="1" stroke-dasharray="2.2 1.8"/>
<path d="M59.30 355.40V369.20M56.60 355.40H62.00M56.60 369.20H62.00" stroke="#c2c2c2" stroke-width="1" fill="none"/>
<path d="M87.67 327.80V345.20M84.97 327.80H90.38M84.97 345.20H90.38" stroke="#c2c2c2" stroke-width="1" fill="none"/>
<path d="M110.38 323.00V340.00M107.67 323.00H113.08M107.67 340.00H113.08" stroke="#c2c2c2" stroke-width="1" fill="none"/>
<path d="M133.07 327.30V344.30M130.38 327.30H135.77M130.38 344.30H135.77" stroke="#c2c2c2" stroke-width="1" fill="none"/>
<path d="M155.77 326.30V344.50M153.07 326.30H158.47M153.07 344.50H158.47" stroke="#c2c2c2" stroke-width="1" fill="none"/>
<path d="M178.47 316.70V334.10M175.78 316.70H181.17M175.78 334.10H181.17" stroke="#c2c2c2" stroke-width="1" fill="none"/>
<path d="M201.18 324.00V342.40M198.48 324.00H203.88M198.48 342.40H203.88" stroke="#c2c2c2" stroke-width="1" fill="none"/>
<path d="M218.20 341.80V358.20M215.50 341.80H220.90M215.50 358.20H220.90" stroke="#c2c2c2" stroke-width="1" fill="none"/>
<rect x="56.70" y="359.70" width="5.2" height="5.2" fill="#fff" stroke="#c2c2c2" stroke-width="1"/>
<rect x="85.08" y="333.90" width="5.2" height="5.2" fill="#fff" stroke="#c2c2c2" stroke-width="1"/>
<rect x="107.78" y="328.90" width="5.2" height="5.2" fill="#fff" stroke="#c2c2c2" stroke-width="1"/>
<rect x="130.47" y="333.20" width="5.2" height="5.2" fill="#fff" stroke="#c2c2c2" stroke-width="1"/>
<rect x="153.17" y="332.80" width="5.2" height="5.2" fill="#fff" stroke="#c2c2c2" stroke-width="1"/>
<rect x="175.88" y="322.80" width="5.2" height="5.2" fill="#fff" stroke="#c2c2c2" stroke-width="1"/>
<rect x="198.58" y="330.60" width="5.2" height="5.2" fill="#fff" stroke="#c2c2c2" stroke-width="1"/>
<rect x="215.60" y="347.40" width="5.2" height="5.2" fill="#fff" stroke="#c2c2c2" stroke-width="1"/>
<text transform="translate(133.88 301.80) scale(1 1.12)" font-family='"Liberation Serif", serif' font-size="7.4" font-weight="bold" text-anchor="middle" fill="#111" stroke="#111" stroke-width="0.28"><tspan dy="2.6">*</tspan><tspan dy="-2.6">,†</tspan></text>
<text transform="translate(156.57 300.70) scale(1 1.12)" font-family='"Liberation Serif", serif' font-size="7.4" font-weight="bold" text-anchor="middle" fill="#111" stroke="#111" stroke-width="0.28"><tspan dy="2.6">*</tspan><tspan dy="-2.6">,†</tspan></text>
<text transform="translate(201.98 293.40) scale(1 1.12)" font-family='"Liberation Serif", serif' font-size="7.4" font-weight="bold" text-anchor="middle" fill="#111" stroke="#111" stroke-width="0.28"><tspan dy="2.6">*</tspan></text>
<rect x="64.20" y="424.20" width="26.60" height="12.50" fill="#d3d3d3"/>
<text transform="translate(77.50 432.45) scale(1 1.12)" font-family='"Liberation Serif", serif' font-size="5.9" font-weight="normal" text-anchor="middle" fill="#333" stroke="#333" stroke-width="0.12">0.25 mg</text>
<rect x="90.80" y="424.20" width="21.80" height="12.50" fill="#a3a3a3"/>
<text transform="translate(101.70 432.45) scale(1 1.12)" font-family='"Liberation Serif", serif' font-size="5.9" font-weight="normal" text-anchor="middle" fill="#222" stroke="#222" stroke-width="0.12">0.5 mg</text>
<rect x="112.60" y="424.55" width="104.55" height="11.80" fill="#5b5b5b" stroke="#454545" stroke-width="0.7"/>
<text transform="translate(162.90 432.45) scale(1 1.12)" font-family='"Liberation Serif", serif' font-size="5.9" font-weight="normal" text-anchor="middle" fill="#eee" stroke="#eee" stroke-width="0.12">1 mg</text>
<rect x="64.20" y="437.60" width="26.60" height="13.40" fill="#e9f5fc"/>
<text transform="translate(77.50 446.30) scale(1 1.12)" font-family='"Liberation Serif", serif' font-size="5.9" font-weight="normal" text-anchor="middle" fill="#333" stroke="#333" stroke-width="0.12">2.5 mg</text>
<rect x="90.80" y="437.60" width="21.80" height="13.40" fill="#a9dcf6"/>
<text transform="translate(101.70 446.30) scale(1 1.12)" font-family='"Liberation Serif", serif' font-size="5.9" font-weight="normal" text-anchor="middle" fill="#222" stroke="#222" stroke-width="0.12">5 mg</text>
<rect x="112.60" y="437.60" width="21.80" height="13.40" fill="#428ff0"/>
<text transform="translate(123.50 446.30) scale(1 1.12)" font-family='"Liberation Serif", serif' font-size="5.9" font-weight="normal" text-anchor="middle" fill="#f4f4ff" stroke="#f4f4ff" stroke-width="0.12">7.5 mg</text>
<rect x="134.40" y="437.60" width="22.50" height="13.40" fill="#0d68f4"/>
<text transform="translate(145.65 446.30) scale(1 1.12)" font-family='"Liberation Serif", serif' font-size="5.9" font-weight="normal" text-anchor="middle" fill="#f4f4ff" stroke="#f4f4ff" stroke-width="0.12">10 mg</text>
<rect x="156.90" y="437.60" width="22.50" height="13.40" fill="#1c14ee"/>
<text transform="translate(168.15 446.30) scale(1 1.12)" font-family='"Liberation Serif", serif' font-size="5.9" font-weight="normal" text-anchor="middle" fill="#f4f4ff" stroke="#f4f4ff" stroke-width="0.12">12.5 mg</text>
<rect x="179.40" y="437.60" width="38.10" height="13.40" fill="#09029c"/>
<text transform="translate(193.60 446.30) scale(1 1.12)" font-family='"Liberation Serif", serif' font-size="5.9" font-weight="normal" text-anchor="middle" fill="#f4f4ff" stroke="#f4f4ff" stroke-width="0.12">15 mg</text>
<text transform="translate(58.90 433.65) scale(1 1.03)" font-family='"Liberation Serif", serif' font-size="7.15" font-weight="bold" text-anchor="end" fill="#111" stroke="#111" stroke-width="0.28">Semaglutide 1 mg</text>
<text transform="translate(58.90 446.70) scale(1 1.03)" font-family='"Liberation Serif", serif' font-size="7.15" font-weight="bold" text-anchor="end" fill="#111" stroke="#111" stroke-width="0.28">Tirzepatide 15 mg</text>
<path d="M300.60 264.20V398.70H489.00" fill="none" stroke="#505050" stroke-width="1.3"/>
<path d="M297.10 398.70H300.60" stroke="#505050" stroke-width="1"/>
<text transform="translate(296.60 401.30) scale(1 1.1)" font-family='"Liberation Serif", serif' font-size="6.6" font-weight="bold" text-anchor="end" fill="#222" stroke="#222" stroke-width="0.18">20</text>
<path d="M297.10 353.87H300.60" stroke="#505050" stroke-width="1"/>
<text transform="translate(296.60 356.47) scale(1 1.1)" font-family='"Liberation Serif", serif' font-size="6.6" font-weight="bold" text-anchor="end" fill="#222" stroke="#222" stroke-width="0.18">40</text>
<path d="M297.10 309.03H300.60" stroke="#505050" stroke-width="1"/>
<text transform="translate(296.60 311.63) scale(1 1.1)" font-family='"Liberation Serif", serif' font-size="6.6" font-weight="bold" text-anchor="end" fill="#222" stroke="#222" stroke-width="0.18">60</text>
<path d="M297.10 264.20H300.60" stroke="#505050" stroke-width="1"/>
<text transform="translate(296.60 266.80) scale(1 1.1)" font-family='"Liberation Serif", serif' font-size="6.6" font-weight="bold" text-anchor="end" fill="#222" stroke="#222" stroke-width="0.18">80</text>
<path d="M317.50 398.70V401.90" stroke="#505050" stroke-width="1"/>
<text transform="translate(317.50 409.00) scale(1 1.05)" font-family='"Liberation Serif", serif' font-size="6.9" font-weight="bold" text-anchor="middle" fill="#222" stroke="#222" stroke-width="0.18">Baseline</text>
<path d="M345.88 398.70V401.90" stroke="#505050" stroke-width="1"/>
<text transform="translate(345.88 409.00) scale(1 1.05)" font-family='"Liberation Serif", serif' font-size="6.9" font-weight="bold" text-anchor="middle" fill="#222" stroke="#222" stroke-width="0.18">5</text>
<path d="M368.57 398.70V401.90" stroke="#505050" stroke-width="1"/>
<text transform="translate(368.57 409.00) scale(1 1.05)" font-family='"Liberation Serif", serif' font-size="6.9" font-weight="bold" text-anchor="middle" fill="#222" stroke="#222" stroke-width="0.18">9</text>
<path d="M391.27 398.70V401.90" stroke="#505050" stroke-width="1"/>
<text transform="translate(391.27 409.00) scale(1 1.05)" font-family='"Liberation Serif", serif' font-size="6.9" font-weight="bold" text-anchor="middle" fill="#222" stroke="#222" stroke-width="0.18">13</text>
<path d="M413.98 398.70V401.90" stroke="#505050" stroke-width="1"/>
<text transform="translate(413.98 409.00) scale(1 1.05)" font-family='"Liberation Serif", serif' font-size="6.9" font-weight="bold" text-anchor="middle" fill="#222" stroke="#222" stroke-width="0.18">17</text>
<path d="M436.68 398.70V401.90" stroke="#505050" stroke-width="1"/>
<text transform="translate(436.68 409.00) scale(1 1.05)" font-family='"Liberation Serif", serif' font-size="6.9" font-weight="bold" text-anchor="middle" fill="#222" stroke="#222" stroke-width="0.18">21</text>
<path d="M459.38 398.70V401.90" stroke="#505050" stroke-width="1"/>
<text transform="translate(459.38 409.00) scale(1 1.05)" font-family='"Liberation Serif", serif' font-size="6.9" font-weight="bold" text-anchor="middle" fill="#222" stroke="#222" stroke-width="0.18">25</text>
<path d="M476.40 398.70V401.90" stroke="#505050" stroke-width="1"/>
<text transform="translate(476.40 409.00) scale(1 1.05)" font-family='"Liberation Serif", serif' font-size="6.9" font-weight="bold" text-anchor="middle" fill="#222" stroke="#222" stroke-width="0.18">28</text>
<text transform="translate(397.90 258.90) scale(1 1.12)" font-family='"Liberation Serif", serif' font-size="9.4" font-weight="bold" text-anchor="middle" fill="#111" stroke="#111" stroke-width="0.28">Fasting Hunger</text>
<text x="262.00" y="264.80" font-family='"Liberation Sans", sans-serif' font-size="14.2" font-weight="bold" fill="#111" stroke="#111" stroke-width="0.55">D</text>
<text transform="translate(281.20 330.70) rotate(-90) scale(1 1.12)" font-family='"Liberation Serif", serif' font-size="8.2" font-weight="bold" text-anchor="middle" fill="#111" stroke="#111" stroke-width="0.28">Fasting Hunger VAS Score</text>
<text transform="translate(394.50 420.00) scale(1 1.12)" font-family='"Liberation Serif", serif' font-size="8" font-weight="bold" text-anchor="middle" fill="#111" stroke="#111" stroke-width="0.28">Time (week)</text>
<path d="M317.50 301.00 L345.88 338.50 L368.57 359.50 L391.27 360.10 L413.98 363.30 L436.68 365.40 L459.38 373.20 L476.40 331.00" fill="none" stroke="#2430c0" stroke-width="1.2"/>
<path d="M317.50 291.90V310.10M314.80 291.90H320.20M314.80 310.10H320.20" stroke="#2430c0" stroke-width="1" fill="none"/>
<path d="M345.88 329.50V347.50M343.18 329.50H348.57M343.18 347.50H348.57" stroke="#2430c0" stroke-width="1" fill="none"/>
<path d="M368.57 350.50V368.50M365.88 350.50H371.27M365.88 368.50H371.27" stroke="#2430c0" stroke-width="1" fill="none"/>
<path d="M391.27 350.40V369.80M388.57 350.40H393.97M388.57 369.80H393.97" stroke="#2430c0" stroke-width="1" fill="none"/>
<path d="M413.98 354.10V372.50M411.28 354.10H416.68M411.28 372.50H416.68" stroke="#2430c0" stroke-width="1" fill="none"/>
<path d="M436.68 355.90V374.90M433.98 355.90H439.38M433.98 374.90H439.38" stroke="#2430c0" stroke-width="1" fill="none"/>
<path d="M459.38 363.40V383.00M456.68 363.40H462.07M456.68 383.00H462.07" stroke="#2430c0" stroke-width="1" fill="none"/>
<path d="M476.40 321.60V340.40M473.70 321.60H479.10M473.70 340.40H479.10" stroke="#2430c0" stroke-width="1" fill="none"/>
<path d="M317.50 298.20L320.30 301.00L317.50 303.80L314.70 301.00Z" fill="#0c0c8c"/>
<path d="M345.88 335.70L348.68 338.50L345.88 341.30L343.07 338.50Z" fill="#0c0c8c"/>
<path d="M368.57 356.70L371.38 359.50L368.57 362.30L365.77 359.50Z" fill="#0c0c8c"/>
<path d="M391.27 357.30L394.07 360.10L391.27 362.90L388.47 360.10Z" fill="#0c0c8c"/>
<path d="M413.98 360.50L416.78 363.30L413.98 366.10L411.18 363.30Z" fill="#0c0c8c"/>
<path d="M436.68 362.60L439.48 365.40L436.68 368.20L433.88 365.40Z" fill="#0c0c8c"/>
<path d="M459.38 370.40L462.18 373.20L459.38 376.00L456.57 373.20Z" fill="#0c0c8c"/>
<path d="M476.40 328.20L479.20 331.00L476.40 333.80L473.60 331.00Z" fill="#0c0c8c"/>
<path d="M317.50 289.20 L345.88 338.00 L368.57 348.90 L391.27 366.00 L413.98 366.40 L436.68 368.10 L459.38 356.50 L476.40 316.70" fill="none" stroke="#3c3c3c" stroke-width="1" stroke-dasharray="2.2 1.8"/>
<path d="M317.50 280.00V298.40M314.80 280.00H320.20M314.80 298.40H320.20" stroke="#3c3c3c" stroke-width="1" fill="none"/>
<path d="M345.88 328.30V347.70M343.18 328.30H348.57M343.18 347.70H348.57" stroke="#3c3c3c" stroke-width="1" fill="none"/>
<path d="M368.57 339.90V357.90M365.88 339.90H371.27M365.88 357.90H371.27" stroke="#3c3c3c" stroke-width="1" fill="none"/>
<path d="M391.27 357.00V375.00M388.57 357.00H393.97M388.57 375.00H393.97" stroke="#3c3c3c" stroke-width="1" fill="none"/>
<path d="M413.98 357.40V375.40M411.28 357.40H416.68M411.28 375.40H416.68" stroke="#3c3c3c" stroke-width="1" fill="none"/>
<path d="M436.68 358.10V378.10M433.98 358.10H439.38M433.98 378.10H439.38" stroke="#3c3c3c" stroke-width="1" fill="none"/>
<path d="M459.38 347.50V365.50M456.68 347.50H462.07M456.68 365.50H462.07" stroke="#3c3c3c" stroke-width="1" fill="none"/>
<path d="M476.40 306.00V327.40M473.70 306.00H479.10M473.70 327.40H479.10" stroke="#3c3c3c" stroke-width="1" fill="none"/>
<circle cx="317.50" cy="289.20" r="2.75" fill="#fff" stroke="#4a4a4a" stroke-width="0.95"/>
<circle cx="345.88" cy="338.00" r="2.75" fill="#fff" stroke="#4a4a4a" stroke-width="0.95"/>
<circle cx="368.57" cy="348.90" r="2.75" fill="#fff" stroke="#4a4a4a" stroke-width="0.95"/>
<circle cx="391.27" cy="366.00" r="2.75" fill="#fff" stroke="#4a4a4a" stroke-width="0.95"/>
<circle cx="413.98" cy="366.40" r="2.75" fill="#fff" stroke="#4a4a4a" stroke-width="0.95"/>
<circle cx="436.68" cy="368.10" r="2.75" fill="#fff" stroke="#4a4a4a" stroke-width="0.95"/>
<circle cx="459.38" cy="356.50" r="2.75" fill="#fff" stroke="#4a4a4a" stroke-width="0.95"/>
<circle cx="476.40" cy="316.70" r="2.75" fill="#fff" stroke="#4a4a4a" stroke-width="0.95"/>
<path d="M317.50 302.30 L345.88 326.90 L368.57 340.80 L391.27 323.50 L413.98 317.70 L436.68 338.80 L459.38 329.30 L476.40 301.10" fill="none" stroke="#c2c2c2" stroke-width="1" stroke-dasharray="2.2 1.8"/>
<path d="M317.50 290.80V313.80M314.80 290.80H320.20M314.80 313.80H320.20" stroke="#c2c2c2" stroke-width="1" fill="none"/>
<path d="M345.88 314.60V339.20M343.18 314.60H348.57M343.18 339.20H348.57" stroke="#c2c2c2" stroke-width="1" fill="none"/>
<path d="M368.57 328.80V352.80M365.88 328.80H371.27M365.88 352.80H371.27" stroke="#c2c2c2" stroke-width="1" fill="none"/>
<path d="M391.27 311.50V335.50M388.57 311.50H393.97M388.57 335.50H393.97" stroke="#c2c2c2" stroke-width="1" fill="none"/>
<path d="M413.98 306.10V329.30M411.28 306.10H416.68M411.28 329.30H416.68" stroke="#c2c2c2" stroke-width="1" fill="none"/>
<path d="M436.68 326.70V350.90M433.98 326.70H439.38M433.98 350.90H439.38" stroke="#c2c2c2" stroke-width="1" fill="none"/>
<path d="M459.38 317.00V341.60M456.68 317.00H462.07M456.68 341.60H462.07" stroke="#c2c2c2" stroke-width="1" fill="none"/>
<path d="M476.40 288.30V306.80M473.70 288.30H479.10M473.70 306.80H479.10" stroke="#c2c2c2" stroke-width="1" fill="none"/>
<rect x="314.90" y="299.70" width="5.2" height="5.2" fill="#fff" stroke="#c2c2c2" stroke-width="1"/>
<rect x="343.27" y="324.30" width="5.2" height="5.2" fill="#fff" stroke="#c2c2c2" stroke-width="1"/>
<rect x="365.97" y="338.20" width="5.2" height="5.2" fill="#fff" stroke="#c2c2c2" stroke-width="1"/>
<rect x="388.67" y="320.90" width="5.2" height="5.2" fill="#fff" stroke="#c2c2c2" stroke-width="1"/>
<rect x="411.38" y="315.10" width="5.2" height="5.2" fill="#fff" stroke="#c2c2c2" stroke-width="1"/>
<rect x="434.07" y="336.20" width="5.2" height="5.2" fill="#fff" stroke="#c2c2c2" stroke-width="1"/>
<rect x="456.77" y="326.70" width="5.2" height="5.2" fill="#fff" stroke="#c2c2c2" stroke-width="1"/>
<rect x="473.80" y="298.50" width="5.2" height="5.2" fill="#fff" stroke="#c2c2c2" stroke-width="1"/>
<text transform="translate(392.07 383.10) scale(1 1.12)" font-family='"Liberation Serif", serif' font-size="7.4" font-weight="bold" text-anchor="middle" fill="#111" stroke="#111" stroke-width="0.28"><tspan dy="2.6">*</tspan><tspan dy="-2.6">,†</tspan></text>
<text transform="translate(414.78 383.10) scale(1 1.12)" font-family='"Liberation Serif", serif' font-size="7.4" font-weight="bold" text-anchor="middle" fill="#111" stroke="#111" stroke-width="0.28"><tspan dy="2.6">*</tspan><tspan dy="-2.6">,†</tspan></text>
<text transform="translate(460.18 389.40) scale(1 1.12)" font-family='"Liberation Serif", serif' font-size="7.4" font-weight="bold" text-anchor="middle" fill="#111" stroke="#111" stroke-width="0.28"><tspan dy="2.6">*</tspan></text>
<rect x="323.20" y="425.00" width="26.80" height="12.50" fill="#d3d3d3"/>
<text transform="translate(336.60 433.25) scale(1 1.12)" font-family='"Liberation Serif", serif' font-size="5.9" font-weight="normal" text-anchor="middle" fill="#333" stroke="#333" stroke-width="0.12">0.25 mg</text>
<rect x="350.00" y="425.00" width="22.00" height="12.50" fill="#a3a3a3"/>
<text transform="translate(361.00 433.25) scale(1 1.12)" font-family='"Liberation Serif", serif' font-size="5.9" font-weight="normal" text-anchor="middle" fill="#222" stroke="#222" stroke-width="0.12">0.5 mg</text>
<rect x="372.00" y="425.35" width="104.15" height="11.80" fill="#5b5b5b" stroke="#454545" stroke-width="0.7"/>
<text transform="translate(422.30 433.25) scale(1 1.12)" font-family='"Liberation Serif", serif' font-size="5.9" font-weight="normal" text-anchor="middle" fill="#eee" stroke="#eee" stroke-width="0.12">1 mg</text>
<rect x="323.20" y="438.60" width="26.80" height="11.90" fill="#e9f5fc"/>
<text transform="translate(336.60 446.55) scale(1 1.12)" font-family='"Liberation Serif", serif' font-size="5.9" font-weight="normal" text-anchor="middle" fill="#333" stroke="#333" stroke-width="0.12">2.5 mg</text>
<rect x="350.00" y="438.60" width="22.00" height="11.90" fill="#a9dcf6"/>
<text transform="translate(361.00 446.55) scale(1 1.12)" font-family='"Liberation Serif", serif' font-size="5.9" font-weight="normal" text-anchor="middle" fill="#222" stroke="#222" stroke-width="0.12">5 mg</text>
<rect x="372.00" y="438.60" width="21.80" height="11.90" fill="#428ff0"/>
<text transform="translate(382.90 446.55) scale(1 1.12)" font-family='"Liberation Serif", serif' font-size="5.9" font-weight="normal" text-anchor="middle" fill="#f4f4ff" stroke="#f4f4ff" stroke-width="0.12">7.5 mg</text>
<rect x="393.80" y="438.60" width="22.40" height="11.90" fill="#0d68f4"/>
<text transform="translate(405.00 446.55) scale(1 1.12)" font-family='"Liberation Serif", serif' font-size="5.9" font-weight="normal" text-anchor="middle" fill="#f4f4ff" stroke="#f4f4ff" stroke-width="0.12">10 mg</text>
<rect x="416.20" y="438.60" width="22.60" height="11.90" fill="#1c14ee"/>
<text transform="translate(427.50 446.55) scale(1 1.12)" font-family='"Liberation Serif", serif' font-size="5.9" font-weight="normal" text-anchor="middle" fill="#f4f4ff" stroke="#f4f4ff" stroke-width="0.12">12.5 mg</text>
<rect x="438.80" y="438.60" width="37.70" height="11.90" fill="#09029c"/>
<text transform="translate(453.00 446.55) scale(1 1.12)" font-family='"Liberation Serif", serif' font-size="5.9" font-weight="normal" text-anchor="middle" fill="#f4f4ff" stroke="#f4f4ff" stroke-width="0.12">15 mg</text>
<text transform="translate(317.80 434.45) scale(1 1.03)" font-family='"Liberation Serif", serif' font-size="7.15" font-weight="bold" text-anchor="end" fill="#111" stroke="#111" stroke-width="0.28">Semaglutide 1 mg</text>
<text transform="translate(317.80 446.95) scale(1 1.03)" font-family='"Liberation Serif", serif' font-size="7.15" font-weight="bold" text-anchor="end" fill="#111" stroke="#111" stroke-width="0.28">Tirzepatide 15 mg</text>
<path d="M41.80 483.50V618.40H222.70" fill="none" stroke="#505050" stroke-width="1.3"/>
<path d="M38.30 618.40H41.80" stroke="#505050" stroke-width="1"/>
<text transform="translate(37.80 621.00) scale(1 1.1)" font-family='"Liberation Serif", serif' font-size="6.6" font-weight="bold" text-anchor="end" fill="#222" stroke="#222" stroke-width="0.18">0</text>
<path d="M38.30 584.67H41.80" stroke="#505050" stroke-width="1"/>
<text transform="translate(37.80 587.27) scale(1 1.1)" font-family='"Liberation Serif", serif' font-size="6.6" font-weight="bold" text-anchor="end" fill="#222" stroke="#222" stroke-width="0.18">20</text>
<path d="M38.30 550.95H41.80" stroke="#505050" stroke-width="1"/>
<text transform="translate(37.80 553.55) scale(1 1.1)" font-family='"Liberation Serif", serif' font-size="6.6" font-weight="bold" text-anchor="end" fill="#222" stroke="#222" stroke-width="0.18">40</text>
<path d="M38.30 517.23H41.80" stroke="#505050" stroke-width="1"/>
<text transform="translate(37.80 519.83) scale(1 1.1)" font-family='"Liberation Serif", serif' font-size="6.6" font-weight="bold" text-anchor="end" fill="#222" stroke="#222" stroke-width="0.18">60</text>
<path d="M38.30 483.50H41.80" stroke="#505050" stroke-width="1"/>
<text transform="translate(37.80 486.10) scale(1 1.1)" font-family='"Liberation Serif", serif' font-size="6.6" font-weight="bold" text-anchor="end" fill="#222" stroke="#222" stroke-width="0.18">80</text>
<path d="M58.20 618.40V621.60" stroke="#505050" stroke-width="1"/>
<text transform="translate(58.20 628.70) scale(1 1.05)" font-family='"Liberation Serif", serif' font-size="6.9" font-weight="bold" text-anchor="middle" fill="#222" stroke="#222" stroke-width="0.18">Baseline</text>
<path d="M85.52 618.40V621.60" stroke="#505050" stroke-width="1"/>
<text transform="translate(85.52 628.70) scale(1 1.05)" font-family='"Liberation Serif", serif' font-size="6.9" font-weight="bold" text-anchor="middle" fill="#222" stroke="#222" stroke-width="0.18">5</text>
<path d="M107.38 618.40V621.60" stroke="#505050" stroke-width="1"/>
<text transform="translate(107.38 628.70) scale(1 1.05)" font-family='"Liberation Serif", serif' font-size="6.9" font-weight="bold" text-anchor="middle" fill="#222" stroke="#222" stroke-width="0.18">9</text>
<path d="M129.23 618.40V621.60" stroke="#505050" stroke-width="1"/>
<text transform="translate(129.23 628.70) scale(1 1.05)" font-family='"Liberation Serif", serif' font-size="6.9" font-weight="bold" text-anchor="middle" fill="#222" stroke="#222" stroke-width="0.18">13</text>
<path d="M151.09 618.40V621.60" stroke="#505050" stroke-width="1"/>
<text transform="translate(151.09 628.70) scale(1 1.05)" font-family='"Liberation Serif", serif' font-size="6.9" font-weight="bold" text-anchor="middle" fill="#222" stroke="#222" stroke-width="0.18">17</text>
<path d="M172.94 618.40V621.60" stroke="#505050" stroke-width="1"/>
<text transform="translate(172.94 628.70) scale(1 1.05)" font-family='"Liberation Serif", serif' font-size="6.9" font-weight="bold" text-anchor="middle" fill="#222" stroke="#222" stroke-width="0.18">21</text>
<path d="M194.80 618.40V621.60" stroke="#505050" stroke-width="1"/>
<text transform="translate(194.80 628.70) scale(1 1.05)" font-family='"Liberation Serif", serif' font-size="6.9" font-weight="bold" text-anchor="middle" fill="#222" stroke="#222" stroke-width="0.18">25</text>
<path d="M211.19 618.40V621.60" stroke="#505050" stroke-width="1"/>
<text transform="translate(211.19 628.70) scale(1 1.05)" font-family='"Liberation Serif", serif' font-size="6.9" font-weight="bold" text-anchor="middle" fill="#222" stroke="#222" stroke-width="0.18">28</text>
<text transform="translate(131.25 472.40) scale(1 1.12)" font-family='"Liberation Serif", serif' font-size="9.4" font-weight="bold" text-anchor="middle" fill="#111" stroke="#111" stroke-width="0.28">Fasting Prospective Food</text>
<text transform="translate(130.90 483.40) scale(1 1.12)" font-family='"Liberation Serif", serif' font-size="9.4" font-weight="bold" text-anchor="middle" fill="#111" stroke="#111" stroke-width="0.28">Consumption</text>
<text x="1.30" y="475.00" font-family='"Liberation Sans", sans-serif' font-size="14.2" font-weight="bold" fill="#111" stroke="#111" stroke-width="0.55">E</text>
<text transform="translate(12.50 549.90) rotate(-90) scale(1 1.12)" font-family='"Liberation Serif", serif' font-size="8.2" font-weight="bold" text-anchor="middle" fill="#111" stroke="#111" stroke-width="0.28">Fasting Prospective Food Consumption</text>
<text transform="translate(21.30 549.90) rotate(-90) scale(1 1.12)" font-family='"Liberation Serif", serif' font-size="8.2" font-weight="bold" text-anchor="middle" fill="#111" stroke="#111" stroke-width="0.28">VAS Score</text>
<text transform="translate(132.90 640.40) scale(1 1.12)" font-family='"Liberation Serif", serif' font-size="8" font-weight="bold" text-anchor="middle" fill="#111" stroke="#111" stroke-width="0.28">Time (week)</text>
<path d="M58.20 506.70 L85.52 530.60 L107.38 543.00 L129.23 547.70 L151.09 549.60 L172.94 553.10 L194.80 556.90 L211.19 540.00" fill="none" stroke="#2430c0" stroke-width="1.2"/>
<path d="M58.20 502.20V511.20M55.50 502.20H60.90M55.50 511.20H60.90" stroke="#2430c0" stroke-width="1" fill="none"/>
<path d="M85.52 525.00V536.20M82.82 525.00H88.22M82.82 536.20H88.22" stroke="#2430c0" stroke-width="1" fill="none"/>
<path d="M107.38 538.10V547.90M104.68 538.10H110.08M104.68 547.90H110.08" stroke="#2430c0" stroke-width="1" fill="none"/>
<path d="M129.23 541.50V553.90M126.53 541.50H131.93M126.53 553.90H131.93" stroke="#2430c0" stroke-width="1" fill="none"/>
<path d="M151.09 544.20V555.00M148.39 544.20H153.79M148.39 555.00H153.79" stroke="#2430c0" stroke-width="1" fill="none"/>
<path d="M172.94 547.30V558.90M170.24 547.30H175.64M170.24 558.90H175.64" stroke="#2430c0" stroke-width="1" fill="none"/>
<path d="M194.80 551.10V562.70M192.10 551.10H197.50M192.10 562.70H197.50" stroke="#2430c0" stroke-width="1" fill="none"/>
<path d="M211.19 534.40V545.60M208.49 534.40H213.89M208.49 545.60H213.89" stroke="#2430c0" stroke-width="1" fill="none"/>
<path d="M58.20 503.90L61.00 506.70L58.20 509.50L55.40 506.70Z" fill="#0c0c8c"/>
<path d="M85.52 527.80L88.32 530.60L85.52 533.40L82.72 530.60Z" fill="#0c0c8c"/>
<path d="M107.38 540.20L110.18 543.00L107.38 545.80L104.58 543.00Z" fill="#0c0c8c"/>
<path d="M129.23 544.90L132.03 547.70L129.23 550.50L126.43 547.70Z" fill="#0c0c8c"/>
<path d="M151.09 546.80L153.89 549.60L151.09 552.40L148.29 549.60Z" fill="#0c0c8c"/>
<path d="M172.94 550.30L175.74 553.10L172.94 555.90L170.14 553.10Z" fill="#0c0c8c"/>
<path d="M194.80 554.10L197.60 556.90L194.80 559.70L192.00 556.90Z" fill="#0c0c8c"/>
<path d="M211.19 537.20L213.99 540.00L211.19 542.80L208.39 540.00Z" fill="#0c0c8c"/>
<path d="M58.20 498.20 L85.52 537.80 L107.38 536.60 L129.23 553.50 L151.09 556.30 L172.94 557.30 L194.80 552.50 L211.19 530.80" fill="none" stroke="#3c3c3c" stroke-width="1" stroke-dasharray="2.2 1.8"/>
<path d="M58.20 493.40V503.00M55.50 493.40H60.90M55.50 503.00H60.90" stroke="#3c3c3c" stroke-width="1" fill="none"/>
<path d="M85.52 532.90V542.70M82.82 532.90H88.22M82.82 542.70H88.22" stroke="#3c3c3c" stroke-width="1" fill="none"/>
<path d="M107.38 531.60V541.60M104.68 531.60H110.08M104.68 541.60H110.08" stroke="#3c3c3c" stroke-width="1" fill="none"/>
<path d="M129.23 548.20V558.80M126.53 548.20H131.93M126.53 558.80H131.93" stroke="#3c3c3c" stroke-width="1" fill="none"/>
<path d="M151.09 551.10V561.50M148.39 551.10H153.79M148.39 561.50H153.79" stroke="#3c3c3c" stroke-width="1" fill="none"/>
<path d="M172.94 551.90V562.70M170.24 551.90H175.64M170.24 562.70H175.64" stroke="#3c3c3c" stroke-width="1" fill="none"/>
<path d="M194.80 546.70V558.30M192.10 546.70H197.50M192.10 558.30H197.50" stroke="#3c3c3c" stroke-width="1" fill="none"/>
<path d="M211.19 525.60V536.00M208.49 525.60H213.89M208.49 536.00H213.89" stroke="#3c3c3c" stroke-width="1" fill="none"/>
<circle cx="58.20" cy="498.20" r="2.75" fill="#fff" stroke="#4a4a4a" stroke-width="0.95"/>
<circle cx="85.52" cy="537.80" r="2.75" fill="#fff" stroke="#4a4a4a" stroke-width="0.95"/>
<circle cx="107.38" cy="536.60" r="2.75" fill="#fff" stroke="#4a4a4a" stroke-width="0.95"/>
<circle cx="129.23" cy="553.50" r="2.75" fill="#fff" stroke="#4a4a4a" stroke-width="0.95"/>
<circle cx="151.09" cy="556.30" r="2.75" fill="#fff" stroke="#4a4a4a" stroke-width="0.95"/>
<circle cx="172.94" cy="557.30" r="2.75" fill="#fff" stroke="#4a4a4a" stroke-width="0.95"/>
<circle cx="194.80" cy="552.50" r="2.75" fill="#fff" stroke="#4a4a4a" stroke-width="0.95"/>
<circle cx="211.19" cy="530.80" r="2.75" fill="#fff" stroke="#4a4a4a" stroke-width="0.95"/>
<path d="M58.20 503.40 L85.52 527.10 L107.38 526.20 L129.23 533.30 L151.09 530.80 L172.94 530.00 L194.80 531.30 L211.19 508.30" fill="none" stroke="#c2c2c2" stroke-width="1" stroke-dasharray="2.2 1.8"/>
<path d="M58.20 498.40V508.40M55.50 498.40H60.90M55.50 508.40H60.90" stroke="#c2c2c2" stroke-width="1" fill="none"/>
<path d="M85.52 521.60V532.60M82.82 521.60H88.22M82.82 532.60H88.22" stroke="#c2c2c2" stroke-width="1" fill="none"/>
<path d="M107.38 520.60V531.80M104.68 520.60H110.08M104.68 531.80H110.08" stroke="#c2c2c2" stroke-width="1" fill="none"/>
<path d="M129.23 526.20V540.40M126.53 526.20H131.93M126.53 540.40H131.93" stroke="#c2c2c2" stroke-width="1" fill="none"/>
<path d="M151.09 523.60V538.00M148.39 523.60H153.79M148.39 538.00H153.79" stroke="#c2c2c2" stroke-width="1" fill="none"/>
<path d="M172.94 523.00V537.00M170.24 523.00H175.64M170.24 537.00H175.64" stroke="#c2c2c2" stroke-width="1" fill="none"/>
<path d="M194.80 524.10V538.50M192.10 524.10H197.50M192.10 538.50H197.50" stroke="#c2c2c2" stroke-width="1" fill="none"/>
<path d="M211.19 501.40V515.20M208.49 501.40H213.89M208.49 515.20H213.89" stroke="#c2c2c2" stroke-width="1" fill="none"/>
<rect x="55.60" y="500.80" width="5.2" height="5.2" fill="#fff" stroke="#c2c2c2" stroke-width="1"/>
<rect x="82.92" y="524.50" width="5.2" height="5.2" fill="#fff" stroke="#c2c2c2" stroke-width="1"/>
<rect x="104.78" y="523.60" width="5.2" height="5.2" fill="#fff" stroke="#c2c2c2" stroke-width="1"/>
<rect x="126.63" y="530.70" width="5.2" height="5.2" fill="#fff" stroke="#c2c2c2" stroke-width="1"/>
<rect x="148.49" y="528.20" width="5.2" height="5.2" fill="#fff" stroke="#c2c2c2" stroke-width="1"/>
<rect x="170.34" y="527.40" width="5.2" height="5.2" fill="#fff" stroke="#c2c2c2" stroke-width="1"/>
<rect x="192.20" y="528.70" width="5.2" height="5.2" fill="#fff" stroke="#c2c2c2" stroke-width="1"/>
<rect x="208.59" y="505.70" width="5.2" height="5.2" fill="#fff" stroke="#c2c2c2" stroke-width="1"/>
<text transform="translate(108.18 555.40) scale(1 1.12)" font-family='"Liberation Serif", serif' font-size="7.4" font-weight="bold" text-anchor="middle" fill="#111" stroke="#111" stroke-width="0.28"><tspan dy="2.6">*</tspan></text>
<text transform="translate(129.23 567.40) scale(1 1.12)" font-family='"Liberation Serif", serif' font-size="7.4" font-weight="bold" text-anchor="middle" fill="#111" stroke="#111" stroke-width="0.28">†</text>
<text transform="translate(151.89 569.40) scale(1 1.12)" font-family='"Liberation Serif", serif' font-size="7.4" font-weight="bold" text-anchor="middle" fill="#111" stroke="#111" stroke-width="0.28"><tspan dy="2.6">*</tspan><tspan dy="-2.6">,†</tspan></text>
<text transform="translate(173.74 569.40) scale(1 1.12)" font-family='"Liberation Serif", serif' font-size="7.4" font-weight="bold" text-anchor="middle" fill="#111" stroke="#111" stroke-width="0.28"><tspan dy="2.6">*</tspan><tspan dy="-2.6">,†</tspan></text>
<text transform="translate(195.60 569.40) scale(1 1.12)" font-family='"Liberation Serif", serif' font-size="7.4" font-weight="bold" text-anchor="middle" fill="#111" stroke="#111" stroke-width="0.28"><tspan dy="2.6">*</tspan><tspan dy="-2.6">,†</tspan></text>
<text transform="translate(213.79 553.00) scale(1 1.12)" font-family='"Liberation Serif", serif' font-size="7.4" font-weight="bold" text-anchor="middle" fill="#111" stroke="#111" stroke-width="0.28"><tspan dy="2.6">**</tspan><tspan dy="-2.6">,†</tspan></text>
<rect x="61.20" y="643.30" width="26.30" height="12.40" fill="#d3d3d3"/>
<text transform="translate(74.35 651.50) scale(1 1.12)" font-family='"Liberation Serif", serif' font-size="5.9" font-weight="normal" text-anchor="middle" fill="#333" stroke="#333" stroke-width="0.12">0.25 mg</text>
<rect x="87.50" y="643.30" width="21.80" height="12.40" fill="#a3a3a3"/>
<text transform="translate(98.40 651.50) scale(1 1.12)" font-family='"Liberation Serif", serif' font-size="5.9" font-weight="normal" text-anchor="middle" fill="#222" stroke="#222" stroke-width="0.12">0.5 mg</text>
<rect x="109.30" y="643.65" width="104.55" height="11.70" fill="#5b5b5b" stroke="#454545" stroke-width="0.7"/>
<text transform="translate(159.60 651.50) scale(1 1.12)" font-family='"Liberation Serif", serif' font-size="5.9" font-weight="normal" text-anchor="middle" fill="#eee" stroke="#eee" stroke-width="0.12">1 mg</text>
<rect x="61.20" y="656.70" width="26.30" height="14.30" fill="#e9f5fc"/>
<text transform="translate(74.35 665.85) scale(1 1.12)" font-family='"Liberation Serif", serif' font-size="5.9" font-weight="normal" text-anchor="middle" fill="#333" stroke="#333" stroke-width="0.12">2.5 mg</text>
<rect x="87.50" y="656.70" width="21.80" height="14.30" fill="#a9dcf6"/>
<text transform="translate(98.40 665.85) scale(1 1.12)" font-family='"Liberation Serif", serif' font-size="5.9" font-weight="normal" text-anchor="middle" fill="#222" stroke="#222" stroke-width="0.12">5 mg</text>
<rect x="109.30" y="656.70" width="21.90" height="14.30" fill="#428ff0"/>
<text transform="translate(120.25 665.85) scale(1 1.12)" font-family='"Liberation Serif", serif' font-size="5.9" font-weight="normal" text-anchor="middle" fill="#f4f4ff" stroke="#f4f4ff" stroke-width="0.12">7.5 mg</text>
<rect x="131.20" y="656.70" width="22.40" height="14.30" fill="#0d68f4"/>
<text transform="translate(142.40 665.85) scale(1 1.12)" font-family='"Liberation Serif", serif' font-size="5.9" font-weight="normal" text-anchor="middle" fill="#f4f4ff" stroke="#f4f4ff" stroke-width="0.12">10 mg</text>
<rect x="153.60" y="656.70" width="22.60" height="14.30" fill="#1c14ee"/>
<text transform="translate(164.90 665.85) scale(1 1.12)" font-family='"Liberation Serif", serif' font-size="5.9" font-weight="normal" text-anchor="middle" fill="#f4f4ff" stroke="#f4f4ff" stroke-width="0.12">12.5 mg</text>
<rect x="176.20" y="656.70" width="38.00" height="14.30" fill="#09029c"/>
<text transform="translate(190.40 665.85) scale(1 1.12)" font-family='"Liberation Serif", serif' font-size="5.9" font-weight="normal" text-anchor="middle" fill="#f4f4ff" stroke="#f4f4ff" stroke-width="0.12">15 mg</text>
<text transform="translate(55.40 652.70) scale(1 1.03)" font-family='"Liberation Serif", serif' font-size="7.15" font-weight="bold" text-anchor="end" fill="#111" stroke="#111" stroke-width="0.28">Semaglutide 1 mg</text>
<text transform="translate(55.40 666.25) scale(1 1.03)" font-family='"Liberation Serif", serif' font-size="7.15" font-weight="bold" text-anchor="end" fill="#111" stroke="#111" stroke-width="0.28">Tirzepatide 15 mg</text>
<path d="M448 4H462.8" stroke="#c2c2c2" stroke-width="1" stroke-dasharray="2.2 2"/>
<rect x="452.9" y="1.5" width="5" height="5" fill="#fff" stroke="#c2c2c2" stroke-width="1"/>
<text transform="translate(467.50 6.30) scale(1 1.12)" font-family='"Liberation Serif", serif' font-size="7.2" font-weight="normal" text-anchor="start" fill="#333" stroke="#333" stroke-width="0.12">Placebo</text>
<path d="M448 12.3H462.8" stroke="#3c3c3c" stroke-width="1" stroke-dasharray="2.2 2"/>
<circle cx="455.4" cy="12.3" r="2.5" fill="#fff" stroke="#3c3c3c" stroke-width="1"/>
<text transform="translate(467.50 14.60) scale(1 1.12)" font-family='"Liberation Serif", serif' font-size="7.2" font-weight="normal" text-anchor="start" fill="#333" stroke="#333" stroke-width="0.12">Semaglutide 1 mg</text>
<path d="M448 20.3H462.8" stroke="#2430c0" stroke-width="1.2"/>
<path d="M455.4 17.8L457.9 20.3L455.4 22.8L452.9 20.3Z" fill="#0c0c8c"/>
<text transform="translate(467.50 22.70) scale(1 1.12)" font-family='"Liberation Serif", serif' font-size="7.2" font-weight="normal" text-anchor="start" fill="#333" stroke="#333" stroke-width="0.12">Tirzepatide 15 mg</text>
</svg></body></html>
